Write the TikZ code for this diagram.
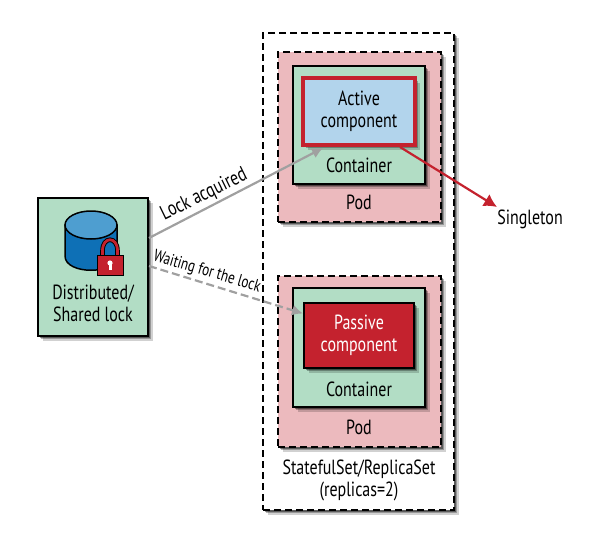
\documentclass[tikz,border=0pt]{standalone}
\usepackage{fontspec}
\setmainfont[FakeStretch=0.78]{PT Sans}
\usetikzlibrary{arrows.meta,shadows,calc}
\definecolor{rGreen}{RGB}{178,221,197}
\definecolor{rPink}{RGB}{236,186,190}
\definecolor{rBlue}{RGB}{178,212,236}
\definecolor{rRed}{RGB}{196,34,46}
\definecolor{rGray}{RGB}{160,160,160}
\definecolor{rDrum}{RGB}{14,112,182}
\definecolor{rDrumTop}{RGB}{78,158,208}
\tikzset{
	softshadow/.style={
		drop shadow={shadow xshift=4.5pt,shadow yshift=-4.5pt,opacity=0.18,fill=black},
		drop shadow={shadow xshift=3pt,shadow yshift=-3pt,opacity=0.28,fill=black},
		drop shadow={shadow xshift=1.5pt,shadow yshift=-1.5pt,opacity=0.4,fill=black}
	},
	setbox/.style={draw=black,line width=2pt,dash pattern=on 7pt off 4pt,fill=white,softshadow,inner sep=0pt},
	podbox/.style={setbox,fill=rPink},
	containerbox/.style={draw=black,line width=2pt,fill=rGreen,softshadow,inner sep=0pt},
	activebox/.style={draw=rRed,line width=4pt,fill=rBlue,softshadow,inner sep=0pt},
	passivebox/.style={draw=black,line width=2pt,fill=rRed,softshadow,inner sep=0pt},
	lbl/.style={font=\fontsize{20.5}{22}\selectfont,align=center,inner sep=0pt,text=black},
	smalllbl/.style={font=\fontsize{17}{18}\selectfont,inner sep=0pt,text=black},
	lockline/.style={draw=rGray,line width=2.2pt,-{Latex[length=11pt,width=11pt]}}
}
\begin{document}
\begin{tikzpicture}[x=1pt,y=-1pt]
	\useasboundingbox (0,0) rectangle (599,536);
	% boxes
	\node[setbox,minimum width=191pt,minimum height=477pt] (replicaset) at (358.5,271.5) {};
	\node[podbox,minimum width=163pt,minimum height=170pt] (podA) at (359.5,137) {};
	\node[containerbox,minimum width=132pt,minimum height=118pt] (containerA) at (359,125) {};
	\node[activebox,minimum width=112pt,minimum height=67pt] (activecomp) at (359,111.5) {};
	\node[podbox,minimum width=163pt,minimum height=171pt] (podB) at (359.5,361.5) {};
	\node[containerbox,minimum width=132pt,minimum height=119pt] (containerB) at (359,347.5) {};
	\node[passivebox,minimum width=110pt,minimum height=65pt] (passivecomp) at (359,335.5) {};
	\node[containerbox,minimum width=110pt,minimum height=138pt] (lockbox) at (93,267) {};
	% drum
	\draw[black,line width=1.5pt,fill=rDrum] (65,225) -- (65,256)
		.. controls (65,275) and (117,275) .. (117,256) -- (117,225) -- cycle;
	\draw[black,line width=1.5pt,fill=rDrumTop] (91,225) ellipse (26pt and 14pt);
	% padlock
	\draw[black,line width=4.6pt] (102.5,256) -- (102.5,251)
		.. controls (102.5,236) and (117.5,236) .. (117.5,251) -- (117.5,256);
	\draw[rRed,line width=2.8pt] (102.5,256) -- (102.5,251)
		.. controls (102.5,236) and (117.5,236) .. (117.5,251) -- (117.5,256);
	\draw[black,line width=1pt,fill=rRed] (97,255) rectangle (123,275);
	\fill[white] (110,263) circle (2.6pt);
	\fill[white] (108.5,263) rectangle (111.5,270);
	% connectors
	\coordinate (lockA) at ($(lockbox.east)+(0,-29)$);
	\coordinate (lockB) at ($(lockbox.east)+(0,-1)$);
	\coordinate (activeend) at ($(activecomp.south)+(-36,1)$);
	\coordinate (activeout) at ($(activecomp.south)+(41,0)$);
	\coordinate (passiveend) at ($(passivecomp.west)+(0,-22)$);
	\coordinate (singletonend) at (497,207);
	\draw[lockline] (lockA) -- (activeend);
	\draw[lockline,dash pattern=on 8pt off 4pt] (lockB) -- (passiveend);
	\draw[draw=rRed,line width=2.2pt,-{Latex[length=13pt,width=14pt]}] (activeout) -- (singletonend);
	% labels
	\node[lbl] (activelabel) at (359,111) {Active\\component};
	\node[lbl] (containerAlabel) at (359,165) {Container};
	\node[lbl] (podAlabel) at (359,202) {Pod};
	\node[lbl,text=white] (passivelabel) at (359,335) {Passive\\component};
	\node[lbl] (containerBlabel) at (359,389) {Container};
	\node[lbl] (podBlabel) at (359,427) {Pod};
	\node[lbl] (setlabel) at (359,480) {StatefulSet/ReplicaSet\\(replicas=2)};
	\node[lbl] (locklabel) at (93,303) {Distributed/\\Shared lock};
	\node[lbl] (singleton) at (530,219) {Singleton};
	\node[lbl,rotate=26] (acquired) at (204,195) {Lock acquired};
	\node[smalllbl,rotate=-16.5] (waiting) at (207,272) {Waiting for the lock};
\end{tikzpicture}
\end{document}
